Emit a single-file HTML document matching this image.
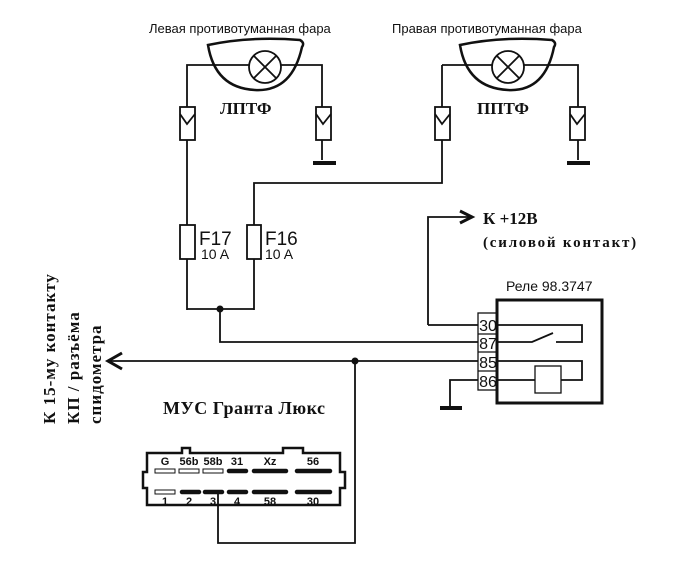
<!DOCTYPE html>
<html><head><meta charset="utf-8"><style>
html,body{margin:0;padding:0;background:#fff}
svg{display:block}
text{font-family:"Liberation Sans",sans-serif}
text.s{font-family:"Liberation Serif",serif;font-weight:bold}
</style></head><body>
<svg width="700" height="574" viewBox="0 0 700 574" xmlns="http://www.w3.org/2000/svg">
<g fill="none" stroke="#111" stroke-width="1.8">
<path d="M208 45 Q250 36 300 40 Q305 43 302 47 Q292 92 255 90 Q215 88 208 45 Z" stroke-width="2.5"/>
<circle cx="265" cy="67" r="16"/>
<path d="M254 56 L276 78 M276 56 L254 78"/>
<path d="M187 310 V65 H249 M281 65 H322 V160"/>
<rect x="180" y="107" width="15" height="33" fill="#fff"/>
<path d="M180 114 L187 124 L195 114"/>
<rect x="316" y="107" width="15" height="33" fill="#fff"/>
<path d="M316 114 L323 124 L331 114"/>
<path d="M313 163 H336" stroke-width="4"/>
<path d="M460 45 Q502 36 552 40 Q557 43 554 47 Q545 92 508 90 Q467 88 460 45 Z" stroke-width="2.5"/>
<circle cx="508" cy="67" r="16"/>
<path d="M497 56 L519 78 M519 56 L497 78"/>
<path d="M442 65 H492 M524 65 H578 V160"/>
<path d="M442 65 V183 H254 V310"/>
<rect x="435" y="107" width="15" height="33" fill="#fff"/>
<path d="M435 114 L442 124 L450 114"/>
<rect x="570" y="107" width="15" height="33" fill="#fff"/>
<path d="M570 114 L577 124 L585 114"/>
<path d="M567 163 H590" stroke-width="4"/>
<rect x="180" y="225" width="15" height="34" fill="#fff"/>
<rect x="247" y="225" width="14" height="34" fill="#fff"/>
<path d="M187 309 H254 M220 309 V342 H478"/>
<path d="M110 361 H478"/>
<path d="M122 353 L108 361 L122 369" stroke-width="3"/>
<path d="M355 361 V543 H218 V492"/>
<rect x="497" y="300" width="105" height="103" stroke-width="3"/>
<rect x="478" y="313" width="19" height="77" stroke-width="1.3"/>
<path d="M478 334 H497 M478 352 H497 M478 371 H497" stroke-width="1.3"/>
<path d="M428 325 H478 M428 325 V217 H470"/>
<path d="M460 211 L472 217 L460 223" stroke-width="3"/>
<path d="M497 325 H582 V342 H556 M497 342 H532 L553 333"/>
<path d="M497 361 H582 V380 H561 M497 380 H535"/>
<rect x="535" y="366" width="26" height="27" stroke-width="1.3"/>
<path d="M478 380 H450 V406"/>
<path d="M440 408 H462" stroke-width="4"/>
<path d="M147 453 H182 V448 H190 V453 H283 V448 H303 V453 H340 V472 H345 V488 H340 V505 H147 V488 H143 V472 H147 Z" stroke-width="2.5"/>
</g>
<circle cx="220" cy="309" r="3.5" fill="#111"/>
<circle cx="355" cy="361" r="3.5" fill="#111"/>
<g stroke="#111" stroke-width="4.5" stroke-linecap="round">
<path d="M229 471 H246 M254 471 H286 M297 471 H330 M182 492 H199 M205 492 H222 M229 492 H246 M254 492 H286 M297 492 H330"/>
</g>
<g fill="#fff" stroke="#111" stroke-width="1">
<rect x="155" y="469" width="20" height="4"/><rect x="179" y="469" width="20" height="4"/><rect x="203" y="469" width="20" height="4"/><rect x="155" y="490" width="20" height="4"/>
</g>
<g font-size="11" font-weight="bold" text-anchor="middle" fill="#111">
<text x="165" y="465">G</text><text x="189" y="465">56b</text><text x="213" y="465">58b</text><text x="237" y="465">31</text><text x="270" y="465">Xz</text><text x="313" y="465">56</text>
<text x="165" y="505">1</text><text x="189" y="505">2</text><text x="213" y="505">3</text><text x="237" y="505">4</text><text x="270" y="505">58</text><text x="313" y="505">30</text>
</g>
<g fill="#111">
<text x="149" y="33" font-size="13">Левая противотуманная фара</text>
<text x="392" y="33" font-size="13">Правая противотуманная фара</text>
<text x="220" y="114" font-size="17" class="s">ЛПТФ</text>
<text x="477" y="114" font-size="17" class="s">ППТФ</text>
<text x="199" y="245" font-size="19">F17</text>
<text x="201" y="259" font-size="14">10 A</text>
<text x="265" y="245" font-size="19">F16</text>
<text x="265" y="259" font-size="14">10 A</text>
<text x="483" y="224" font-size="17" class="s">К +12В</text>
<text x="483" y="247" font-size="15" class="s" letter-spacing="1.8">(силовой контакт)</text>
<text x="506" y="291" font-size="14">Реле 98.3747</text>
<g font-size="16" text-anchor="middle">
<text x="488" y="331">30</text><text x="488" y="349">87</text><text x="488" y="368">85</text><text x="488" y="387">86</text>
</g>
<text x="163" y="414" font-size="18" class="s" letter-spacing="0.5">МУС Гранта Люкс</text>
<text class="s" font-size="17" letter-spacing="1" transform="translate(55 424) rotate(-90)">К 15-му контакту</text>
<text class="s" font-size="17" letter-spacing="1" transform="translate(79 424) rotate(-90)">КП / разъёма</text>
<text class="s" font-size="17" letter-spacing="1" transform="translate(101 424) rotate(-90)">спидометра</text>
</g>
</svg>
</body></html>
